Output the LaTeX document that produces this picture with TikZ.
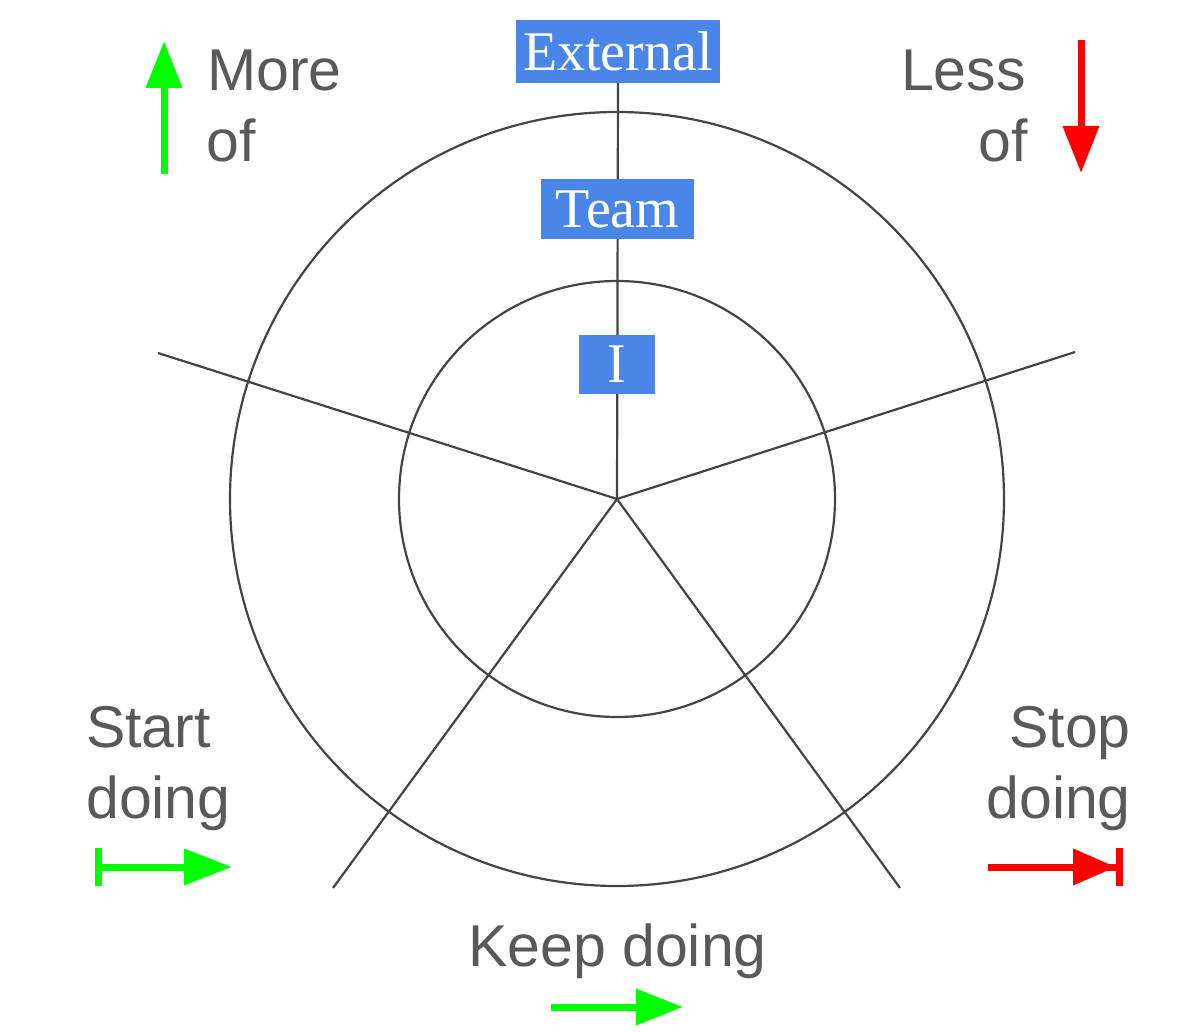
\documentclass[tikz,border=0pt]{standalone}
\usepackage{fontspec}
\setmainfont{Liberation Sans}
\newfontfamily\boxfont{Liberation Serif}
\usetikzlibrary{arrows.meta,backgrounds}
\definecolor{boxblue}{HTML}{4A86E8}
\definecolor{txtgray}{HTML}{595959}
\definecolor{linegray}{HTML}{444444}
\definecolor{arrgreen}{HTML}{00FF00}
\definecolor{arrred}{HTML}{FF0000}
\begin{document}
\begin{tikzpicture}[x=1pt,y=-1pt,
  ring/.style={circle,draw=linegray,line width=2.2pt,inner sep=0pt},
  spoke/.style={draw=linegray,line width=2.2pt},
  tag/.style={fill=boxblue,text=white,inner sep=0pt,font=\boxfont\fontsize{56}{60}\selectfont},
  lbl/.style={text=txtgray,inner sep=0pt,font=\fontsize{59}{70}\selectfont},
  bigarrow/.style={line width=7pt,-{Triangle[length=47pt,width=35pt]}},
]
\useasboundingbox (0,0) rectangle (1200,1032);
% rings
\node[ring,minimum size=774pt] (outer) at (617,499) {};
\node[ring,minimum size=436pt] (inner) at (617,499) {};
\coordinate (c) at (617,499);
\coordinate (ul) at (158,353);
\coordinate (ur) at (1075,352);
\coordinate (ll) at (333,888);
\coordinate (lr) at (900,888);
% tags
\node[tag,minimum width=204pt,minimum height=63pt] (ext) at (618,51.5) {External};
\node[tag,minimum width=153pt,minimum height=60pt] (team) at (617.5,209) {Team};
\node[tag,minimum width=76pt,minimum height=59pt] (me) at (617,364.5) {I};
\begin{scope}[on background layer]
\draw[spoke] (c) -- (ext.south);
\draw[spoke] (c) -- (ul);
\draw[spoke] (c) -- (ur);
\draw[spoke] (c) -- (ll);
\draw[spoke] (c) -- (lr);
\end{scope}
% labels
\node[lbl,anchor=base west] (more1) at (207,91) {More};
\node[lbl,anchor=base west] (more2) at (206,162) {of};
\node[lbl,anchor=base east] (less1) at (1026,91) {Less};
\node[lbl,anchor=base east] (less2) at (1028,162) {of};
\node[lbl,anchor=base west] (start1) at (86,747) {Start};
\node[lbl,anchor=base west] (start2) at (86,818) {doing};
\node[lbl,anchor=base east] (stop1) at (1131,747) {Stop};
\node[lbl,anchor=base east] (stop2) at (1131,818) {doing};
\node[lbl,anchor=base] (keep) at (617.5,966) {Keep doing};
% arrows
\coordinate (moreA) at (164,174);
\coordinate (moreB) at (164,41);
\coordinate (lessA) at (1081,40);
\coordinate (lessB) at (1081,173);
\coordinate (startA) at (95,867);
\coordinate (startB) at (232,867);
\coordinate (stopA) at (988,867);
\coordinate (stopB) at (1123,867);
\coordinate (keepA) at (551,1007);
\coordinate (keepB) at (683,1007);
\draw[bigarrow,arrgreen] (moreA) -- (moreB);
\draw[bigarrow,arrred] (lessA) -- (lessB);
\draw[arrgreen,line width=7pt,{Bar[width=38pt]}-{Triangle[length=48pt,width=35pt]}] (startA) -- (startB);
\draw[arrred,line width=7pt,-{Triangle[length=43pt,width=35pt,sep=0pt]Bar[width=38pt]}] (stopA) -- (stopB);
\draw[bigarrow,arrgreen] (keepA) -- (keepB);
\end{tikzpicture}
\end{document}
